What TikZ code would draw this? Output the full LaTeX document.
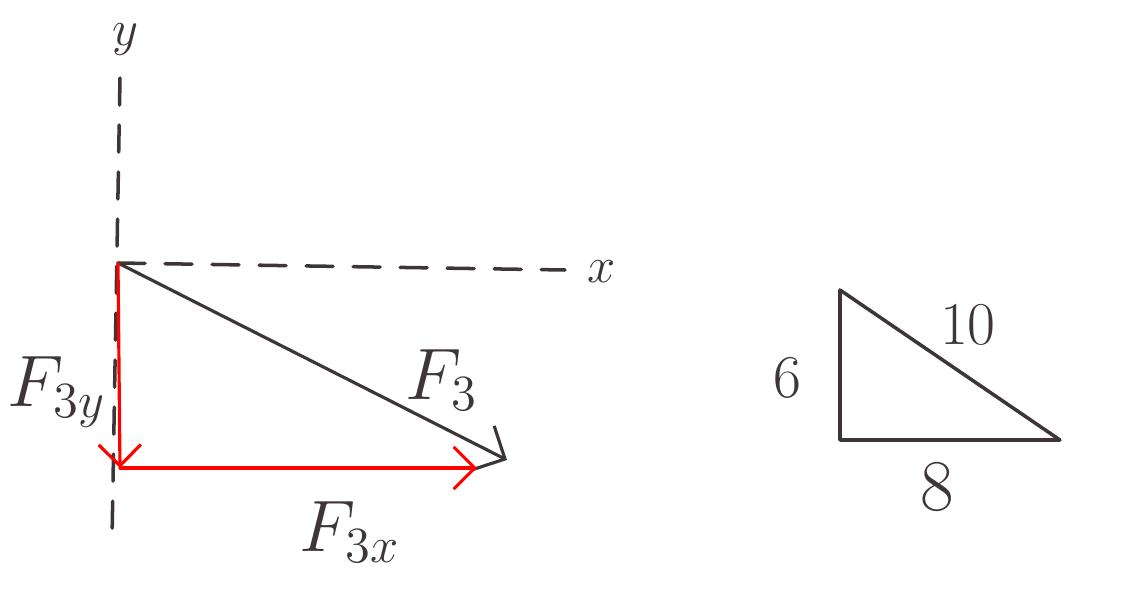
\documentclass[tikz,border=0pt]{standalone}
\usetikzlibrary{arrows.meta}
\definecolor{ink}{RGB}{62,54,54}
\begin{document}
\begin{tikzpicture}[>={Straight Barb[length=7pt,width=14pt]},line join=round,line cap=round,font=\huge,x=0.01cm,y=-0.01cm,
	axis/.style={ink,line width=1pt,dash pattern=on 0.27cm off 0.2cm},
	comp/.style={red,line width=0.9pt,->,>={Straight Barb[length=6pt,width=12pt]}}]
		\useasboundingbox (0,0) rectangle (1144,615);
		% force diagram
		\coordinate (O) at (118,263);
		\coordinate (ytop) at (120,78);
		\coordinate (ybot) at (112,540);
		\coordinate (xend) at (565,270);
		\coordinate (P) at (507,460);
		\coordinate (C) at (120,468);
		\coordinate (Q) at (477,468);
		\draw[axis] (ytop)--(ybot);
		\draw[axis] (O)--(xend);
		\node[ink,font=\Large] (ylab) at (125,40) {$y$};
		\node[ink,font=\Large] (xlab) at (602,272) {$x$};
		\draw[ink,line width=0.9pt,->] (O)--(P);
		\draw[comp] (O)--(C);
		\draw[comp] (C)--(Q);
		\node[ink] (F3) at (442,380) {$F_3$};
		\node[ink] (F3y) at (57,392) {$F_{3y}$};
		\node[ink] (F3x) at (350,532) {$F_{3x}$};
		% 6-8-10 triangle
		\coordinate (A) at (840,290);
		\coordinate (B) at (840,440);
		\coordinate (D) at (1060,440);
		\draw[ink,line width=1pt] (A)--(B)--(D)--cycle;
		\node[ink,font=\LARGE] (six) at (787,378) {6};
		\node[ink,font=\LARGE] (ten) at (968,325) {10};
		\node[ink,font=\huge] (eight) at (937,487) {8};
		\end{tikzpicture}
\end{document}
